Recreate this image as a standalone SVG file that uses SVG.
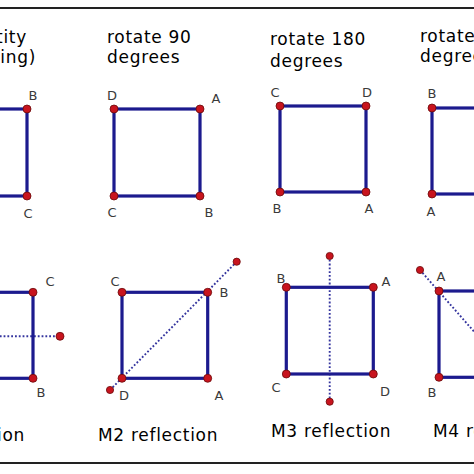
<svg xmlns="http://www.w3.org/2000/svg" width="474" height="474" viewBox="0 0 474 474">
<style>
.sq{fill:none;stroke:#1c1a8e;stroke-width:3.2;stroke-linejoin:miter}
.pt{fill:#c8141e;stroke:#6a0a0a;stroke-width:0.8}
.ax{stroke:#34349e;stroke-width:1.9;stroke-dasharray:1.8 2;fill:none}
.lb{font-family:"DejaVu Sans",sans-serif;font-size:13px;fill:#3a3a3a;text-anchor:middle}
.tt{font-family:"DejaVu Sans",sans-serif;font-size:17px;fill:#000;letter-spacing:0.7px}
.rule{stroke:#222;stroke-width:2}
</style>
<rect width="474" height="474" fill="#fff"/>
<g id="frame">
<line class="rule" x1="0" y1="8" x2="474" y2="8"/>
<line class="rule" x1="0" y1="463" x2="474" y2="463"/>
</g>
<g id="connectors">
<line class="ax" x1="-80" y1="336.3" x2="60" y2="336.3"/>
<line class="ax" x1="110" y1="390" x2="236.7" y2="261.7"/>
<line class="ax" x1="329.7" y1="256" x2="329.7" y2="401.7"/>
<line class="ax" x1="420" y1="270" x2="520" y2="384"/>
</g>
<g id="identity">
<text class="tt" x="27" y="43" text-anchor="end">identity</text>
<text class="tt" x="36" y="63" text-anchor="end">(nothing)</text>
<rect class="sq" x="-59" y="109" width="86" height="87"/>
<circle class="pt" cx="27" cy="109" r="4"/><circle class="pt" cx="27" cy="196" r="4"/>
<text class="lb" x="33" y="100">B</text><text class="lb" x="28" y="218">C</text>
</g>
<g id="rotate90">
<text class="tt" x="107" y="43">rotate 90</text>
<text class="tt" x="107" y="63">degrees</text>
<rect class="sq" x="114" y="109" width="86" height="87"/>
<circle class="pt" cx="114" cy="109" r="4"/><circle class="pt" cx="200" cy="109" r="4"/>
<circle class="pt" cx="114" cy="196" r="4"/><circle class="pt" cx="200" cy="196" r="4"/>
<text class="lb" x="112" y="100">D</text><text class="lb" x="216" y="103">A</text>
<text class="lb" x="112" y="217">C</text><text class="lb" x="209" y="217">B</text>
</g>
<g id="rotate180">
<text class="tt" x="270" y="45">rotate 180</text>
<text class="tt" x="270" y="67">degrees</text>
<rect class="sq" x="280" y="106" width="86" height="86"/>
<circle class="pt" cx="280" cy="106" r="4"/><circle class="pt" cx="366" cy="106" r="4"/>
<circle class="pt" cx="280" cy="192" r="4"/><circle class="pt" cx="366" cy="192" r="4"/>
<text class="lb" x="275" y="97">C</text><text class="lb" x="367" y="97">D</text>
<text class="lb" x="277" y="213">B</text><text class="lb" x="369" y="213">A</text>
</g>
<g id="rotate270">
<text class="tt" x="420" y="42">rotate 270</text>
<text class="tt" x="420" y="62">degrees</text>
<rect class="sq" x="432" y="108" width="86" height="86"/>
<circle class="pt" cx="432" cy="108" r="4"/><circle class="pt" cx="432" cy="194" r="4"/>
<text class="lb" x="432" y="98">B</text><text class="lb" x="431" y="216">A</text>
</g>
<g id="m1">
<text class="tt" x="25" y="441" text-anchor="end">M1 reflection</text>
<rect class="sq" x="-53" y="292.3" width="86" height="86"/>
<circle class="pt" cx="33" cy="292.3" r="4"/><circle class="pt" cx="33" cy="378.3" r="4"/>
<circle class="pt" cx="60" cy="336.3" r="4"/>
<text class="lb" x="50" y="286">C</text><text class="lb" x="41" y="397">B</text>
</g>
<g id="m2">
<text class="tt" x="98" y="441">M2 reflection</text>
<rect class="sq" x="122" y="292.3" width="85.7" height="86"/>
<circle class="pt" cx="122" cy="292.3" r="4"/><circle class="pt" cx="207.7" cy="292.3" r="4"/>
<circle class="pt" cx="122" cy="378.3" r="4"/><circle class="pt" cx="207.7" cy="378.3" r="4"/>
<circle class="pt" cx="110" cy="390" r="3.6"/><circle class="pt" cx="236.7" cy="261.7" r="3.6"/>
<text class="lb" x="115" y="286">C</text><text class="lb" x="224" y="297">B</text>
<text class="lb" x="124" y="400">D</text><text class="lb" x="219" y="400">A</text>
</g>
<g id="m3">
<text class="tt" x="271" y="437">M3 reflection</text>
<rect class="sq" x="286.3" y="287.3" width="87" height="86.7"/>
<circle class="pt" cx="286.3" cy="287.3" r="4"/><circle class="pt" cx="373.3" cy="287.3" r="4"/>
<circle class="pt" cx="286.3" cy="374" r="4"/><circle class="pt" cx="373.3" cy="374" r="4"/>
<circle class="pt" cx="329.7" cy="256" r="3.6"/><circle class="pt" cx="329.7" cy="401.7" r="3.6"/>
<text class="lb" x="281" y="283">B</text><text class="lb" x="386" y="286">A</text>
<text class="lb" x="276" y="392">C</text><text class="lb" x="385" y="396">D</text>
</g>
<g id="m4">
<text class="tt" x="433" y="437">M4 reflection</text>
<rect class="sq" x="439" y="291" width="86" height="86.3"/>
<circle class="pt" cx="439" cy="291" r="4"/><circle class="pt" cx="439" cy="377.3" r="4"/>
<circle class="pt" cx="420" cy="270" r="3.6"/>
<text class="lb" x="441" y="281">A</text><text class="lb" x="432" y="397">B</text>
</g>
</svg>
